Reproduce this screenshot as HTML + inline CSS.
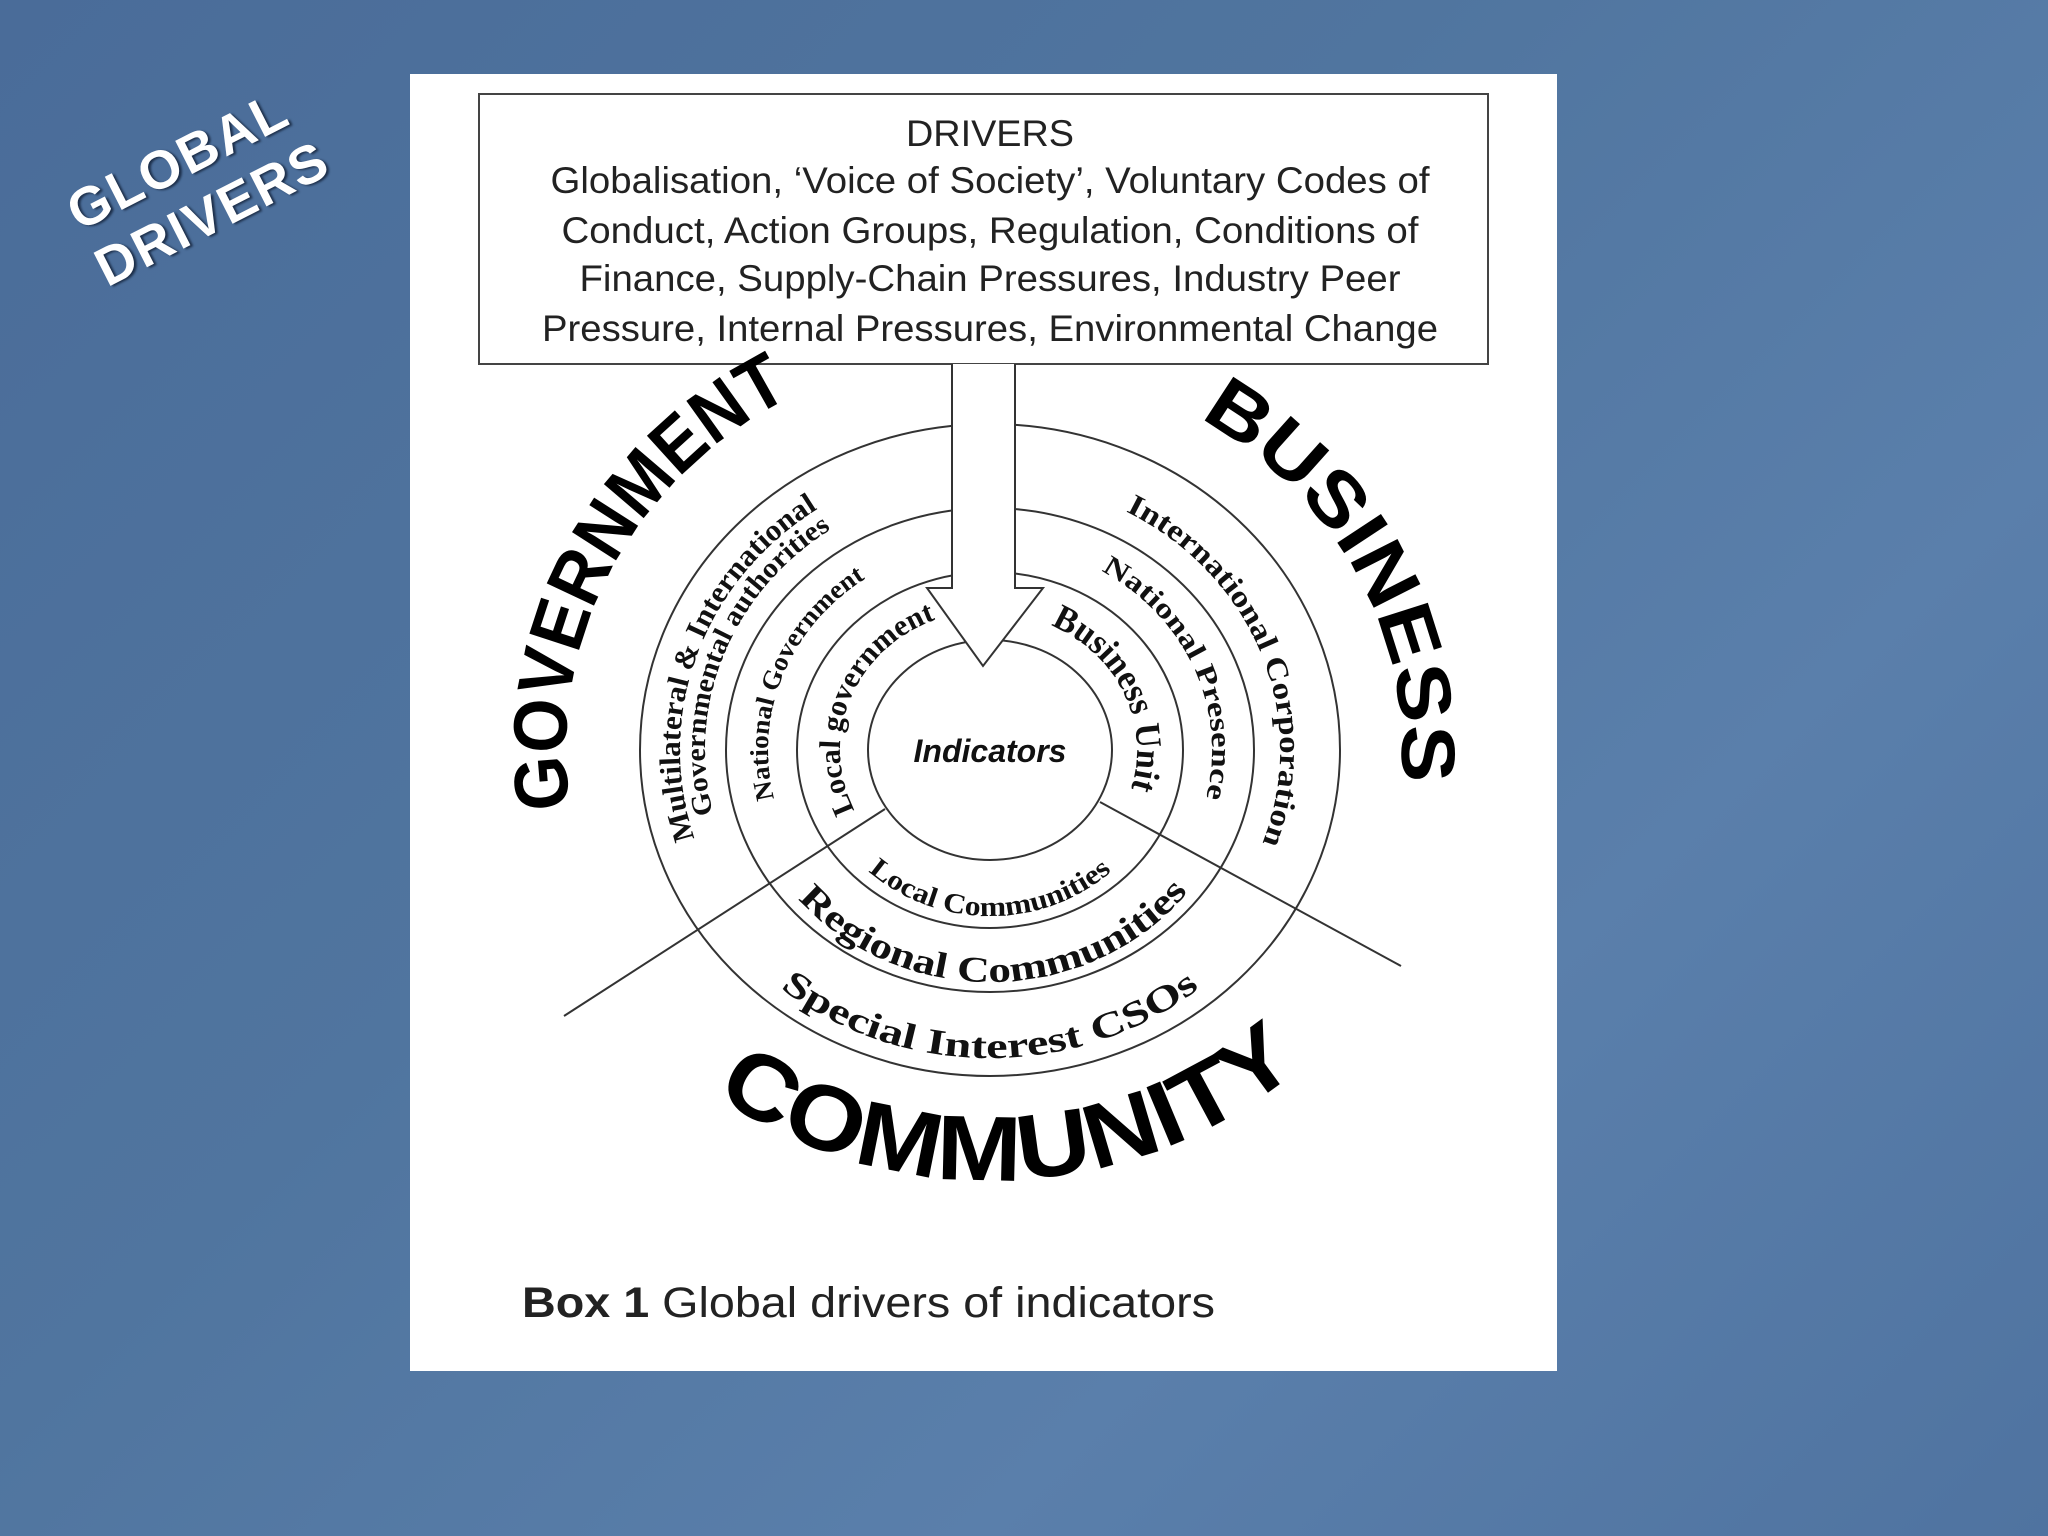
<!DOCTYPE html>
<html><head><meta charset="utf-8"><style>
html,body{margin:0;padding:0}
body{width:2048px;height:1536px;overflow:hidden;background:linear-gradient(135deg,#4a6c99 0%,#50759f 40%,#5a7fab 70%,#4f73a0 100%);position:relative;font-family:"Liberation Sans",sans-serif}
.gd{position:absolute;color:#fff;font-weight:bold;font-size:54px;letter-spacing:2px;text-shadow:2px 2px 2px #1d2f4a;transform:rotate(-27deg);transform-origin:center;white-space:nowrap}
</style></head><body>
<div class="gd" style="left:58px;top:130px;width:240px;text-align:center">GLOBAL</div>
<div class="gd" style="left:86px;top:186px;width:240px;text-align:center">DRIVERS</div>
<svg width="2048" height="1536" style="position:absolute;left:0;top:0">
<rect x="410" y="74" width="1147" height="1297" fill="#fff"/>
<rect x="479" y="94" width="1009" height="270" fill="#fff" stroke="#444" stroke-width="2"/>
<g font-family="Liberation Sans, sans-serif" font-size="37" fill="#222" text-anchor="middle" lengthAdjust="spacingAndGlyphs">
<text x="990" y="146" textLength="168" lengthAdjust="spacingAndGlyphs">DRIVERS</text>
<text x="990" y="193" textLength="879" lengthAdjust="spacingAndGlyphs">Globalisation, ‘Voice of Society’, Voluntary Codes of</text>
<text x="990" y="243" textLength="857" lengthAdjust="spacingAndGlyphs">Conduct, Action Groups, Regulation, Conditions of</text>
<text x="990" y="291" textLength="821" lengthAdjust="spacingAndGlyphs">Finance, Supply-Chain Pressures, Industry Peer</text>
<text x="990" y="341" textLength="896" lengthAdjust="spacingAndGlyphs">Pressure, Internal Pressures, Environmental Change</text>
</g>
<g fill="none" stroke="#333" stroke-width="2">
<line x1="885" y1="809" x2="564" y2="1016"/>
<line x1="1100" y1="802" x2="1401" y2="966"/>
<ellipse cx="990" cy="750" rx="350" ry="326"/>
<ellipse cx="990" cy="750" rx="264" ry="242"/>
<ellipse cx="990" cy="750" rx="193" ry="178"/>
<ellipse cx="990" cy="750" rx="122" ry="110" fill="#fff"/>
</g>
<polygon points="952,364 952,588 927,588 983,666 1043,588 1015,588 1015,364" fill="#fff" stroke="none"/>
<polyline points="952,364 952,588 927,588 983,666 1043,588 1015,588 1015,364" fill="none" stroke="#333" stroke-width="2"/>
<defs>
<path id="gov" d="M990,1150 A424,400 0 1 1 990,350 A424,400 0 1 1 990,1150"/>
<path id="bus" d="M990,365 A412,385 0 1 1 990,1135 A412,385 0 1 1 990,365"/>
<path id="com" d="M530,750 A460,430 0 1 0 1450,750 A460,430 0 1 0 530,750"/>
<path id="mul" d="M990,1040 A310,290 0 1 1 990,460 A310,290 0 1 1 990,1040"/>
<path id="gvt" d="M990,1016 A285,266 0 1 1 990,484 A285,266 0 1 1 990,1016"/>
<path id="nat" d="M990,957 A222,207 0 1 1 990,543 A222,207 0 1 1 990,957"/>
<path id="loc" d="M990,890 A150,140 0 1 1 990,610 A150,140 0 1 1 990,890"/>
<path id="ic" d="M990,480 A290,270 0 1 1 990,1020 A290,270 0 1 1 990,480"/>
<path id="np" d="M990,543 A222,207 0 1 1 990,957 A222,207 0 1 1 990,543"/>
<path id="bu" d="M990,613 A147,137 0 1 1 990,887 A147,137 0 1 1 990,613"/>
<path id="lc" d="M812,750 A178,166 0 1 0 1168,750 A178,166 0 1 0 812,750"/>
<path id="rc" d="M740,750 A250,232 0 1 0 1240,750 A250,232 0 1 0 740,750"/>
<path id="si" d="M660,750 A330,308 0 1 0 1320,750 A330,308 0 1 0 660,750"/>
</defs>
<g font-family="Liberation Sans, sans-serif" font-weight="bold" fill="#000" text-anchor="middle">
<text font-size="76"><textPath href="#gov" startOffset="32.4%" textLength="500" lengthAdjust="spacingAndGlyphs">GOVERNMENT</textPath></text>
<text font-size="76"><textPath href="#bus" startOffset="17.5%" textLength="440" lengthAdjust="spacingAndGlyphs">BUSINESS</textPath></text>
<text font-size="92"><textPath href="#com" startOffset="25.8%" textLength="630" lengthAdjust="spacingAndGlyphs">COMMUNITY</textPath></text>
</g>
<g font-family="Liberation Serif, serif" font-weight="bold" fill="#111" text-anchor="middle">
<text font-size="30"><textPath href="#mul" startOffset="30.3%" textLength="380" lengthAdjust="spacingAndGlyphs">Multilateral &amp; International</textPath></text>
<text font-size="28"><textPath href="#gvt" startOffset="30.8%" textLength="330" lengthAdjust="spacingAndGlyphs">Governmental authorities</textPath></text>
<text font-size="26"><textPath href="#nat" startOffset="30.8%" textLength="255" lengthAdjust="spacingAndGlyphs">National Government</textPath></text>
<text font-size="30"><textPath href="#loc" startOffset="31%" textLength="235" lengthAdjust="spacingAndGlyphs">Local government</textPath></text>
<text font-size="30"><textPath href="#ic" startOffset="19.2%" textLength="395" lengthAdjust="spacingAndGlyphs">International Corporation</textPath></text>
<text font-size="28"><textPath href="#np" startOffset="18.6%" textLength="270" lengthAdjust="spacingAndGlyphs">National Presence</textPath></text>
<text font-size="36"><textPath href="#bu" startOffset="18.2%" textLength="200" lengthAdjust="spacingAndGlyphs">Business Unit</textPath></text>
<text font-size="28"><textPath href="#lc" startOffset="25%" textLength="265" lengthAdjust="spacingAndGlyphs">Local Communities</textPath></text>
<text font-size="36"><textPath href="#rc" startOffset="25.3%" textLength="440" lengthAdjust="spacingAndGlyphs">Regional Communities</textPath></text>
<text font-size="36"><textPath href="#si" startOffset="25%" textLength="450" lengthAdjust="spacingAndGlyphs">Special Interest CSOs</textPath></text>
</g>
<text x="990" y="762" font-family="Liberation Sans, sans-serif" font-style="italic" font-weight="bold" font-size="32" fill="#111" text-anchor="middle">Indicators</text>
<text x="522" y="1317" font-family="Liberation Sans, sans-serif" font-size="43" fill="#222" textLength="693" lengthAdjust="spacingAndGlyphs"><tspan font-weight="bold">Box 1</tspan> Global drivers of indicators</text>
</svg>
</body></html>
